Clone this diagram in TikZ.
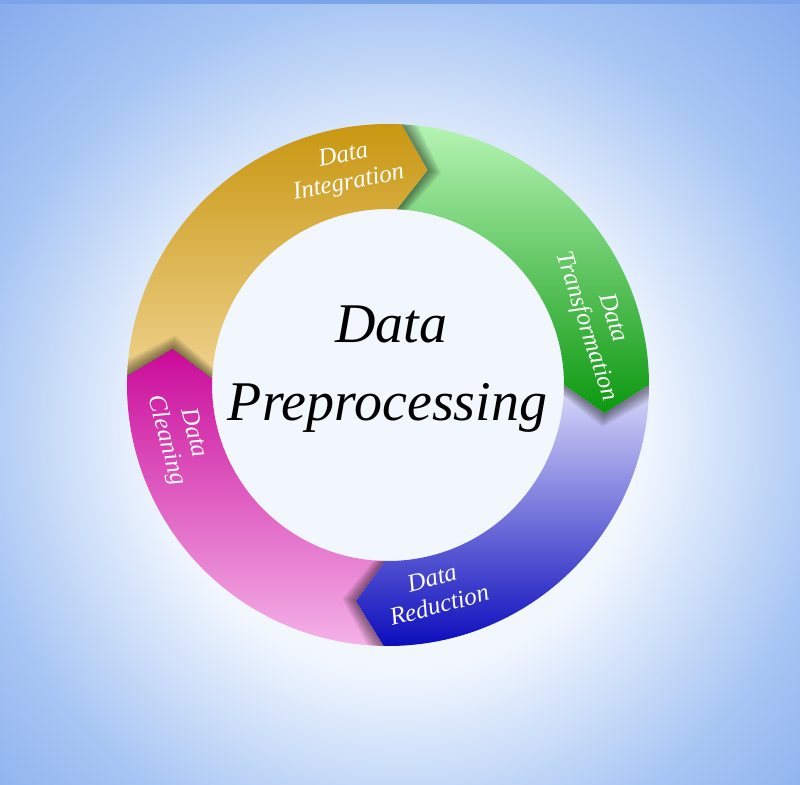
\documentclass[tikz,border=0pt]{standalone}
\usepackage{fontspec}
\setmainfont{Liberation Serif}
\usetikzlibrary{positioning}

\definecolor{bgin}{HTML}{F2F7FE}
\definecolor{bgmid}{HTML}{A8C6F4}
\definecolor{bgout}{HTML}{84AAEC}
\definecolor{bgtop}{HTML}{7CA4E8}
\definecolor{goldtop}{HTML}{C89610}
\definecolor{goldbot}{HTML}{EED28E}
\definecolor{greentop}{HTML}{B6F4B4}
\definecolor{greenbot}{HTML}{0C9810}
\definecolor{bluetop}{HTML}{DADAFA}
\definecolor{bluebot}{HTML}{0C0CBC}
\definecolor{pinktop}{HTML}{CA0A9A}
\definecolor{pinkbot}{HTML}{F4B2E8}

\pgfdeclareradialshading{bgglow}{\pgfpoint{0bp}{0bp}}{color(0bp)=(bgin); color(10bp)=(bgin); color(18bp)=(bgmid); color(25bp)=(bgout); color(50bp)=(bgout)}

\def\outerrad{261}
\def\innerrad{176}
\def\midrad{218.5}
\def\tipdepth{7.5}

\begin{document}
\begin{tikzpicture}[x=1pt,y=1pt]
        \tikzstyle{seglabel}=[text=white, align=center, font=\itshape\fontsize{25}{28}\selectfont]
        \tikzstyle{title}=[anchor=base, font=\itshape\fontsize{56}{60}\selectfont]
        \tikzstyle{shadowband}=[fill=black, opacity=0.06]

        % Draw the background
        \useasboundingbox (-388,-399) rectangle (412,385);
        \fill[bgout] (-388,-399) rectangle (412,385);
        \begin{scope}
            \clip (-388,-399) rectangle (412,385);
            \shade[shading=bgglow] (12,-45) circle (600);
        \end{scope}
        \fill[bgtop] (-388,381) rectangle (412,385);

        % Draw the four ring segments, clockwise, each with a tip and a notch
        \foreach \tail/\base/\ctop/\cbot in {178/87/goldtop/goldbot, 87/0/greentop/greenbot,
                                              0/-91/bluetop/bluebot, -91/-182/pinktop/pinkbot}
            \shade[top color=\ctop, bottom color=\cbot]
                (\tail:\outerrad) arc[start angle=\tail, end angle=\base, radius=\outerrad]
                -- (\base-\tipdepth:\midrad) -- (\base:\innerrad)
                arc[start angle=\base, end angle=\tail, radius=\innerrad]
                -- (\tail-\tipdepth:\midrad) -- cycle;

        % Soft shadows cast by each tip into the next segment
        \foreach \tail in {178, 87, 0, -91}
            \foreach \w in {0.4, 0.8, ..., 4.0}
                \fill[shadowband] (\tail:\outerrad) -- (\tail-\tipdepth:\midrad) -- (\tail:\innerrad)
                    -- (\tail-\w:\innerrad) -- (\tail-\tipdepth-\w:\midrad) -- (\tail-\w:\outerrad) -- cycle;

        % Label the segments
        \node[seglabel, rotate=11] (L-int) at (101:219) {Data\\Integration};
        \node[seglabel, rotate=-72] (L-trans) at (16.5:220) {Data\\Transformation};
        \node[seglabel, rotate=15] (L-red) at (-77:212) {Data\\Reduction};
        \node[seglabel, rotate=-75] (L-clean) at (194:215) {Data\\Cleaning};

        % Title in the middle
        \node[title] (T-data) at (3.5,42) {Data};
        \node[title] (T-pre) at (-0.5,-35) {Preprocessing};
\end{tikzpicture}
\end{document}
